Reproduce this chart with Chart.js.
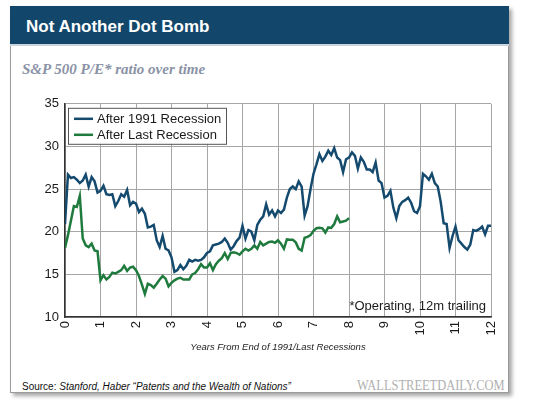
<!DOCTYPE html>
<html><head><meta charset="utf-8">
<script src="https://cdn.jsdelivr.net/npm/chart.js@4.4.0/dist/chart.umd.min.js"></script>
<style>
html,body{margin:0;padding:0;background:#fff;width:540px;height:402px;overflow:hidden;font-family:"Liberation Sans",Arial,sans-serif;}
#card{position:absolute;left:10px;top:6px;width:499px;height:387px;border:1px solid #9a9a9a;box-shadow:3px 3px 4px rgba(0,0,0,0.35);background:#fff;box-sizing:border-box;}
#bar{position:absolute;left:10px;top:6px;width:499px;height:40px;background:#12476b;border-bottom:2px solid #c9d4dd;box-sizing:border-box;}
#title{position:absolute;left:26px;top:17px;line-height:20px;color:#fff;font-weight:bold;font-size:17px;font-family:"Liberation Sans",Arial,sans-serif;white-space:nowrap;}
#sub{position:absolute;left:22px;top:60px;line-height:18px;color:#8a92a6;font-style:italic;font-weight:bold;font-size:15px;font-family:"Liberation Serif","DejaVu Serif",serif;white-space:nowrap;}
#wrap{position:absolute;left:0;top:90px;width:540px;height:280px;}
#src{position:absolute;left:22px;top:381px;line-height:12px;font-size:10px;color:#111;white-space:nowrap;}
#src i{font-style:italic;}
#brand{position:absolute;left:357px;top:377px;line-height:17px;font-size:15px;color:#b0b0b0;font-family:"Liberation Serif","DejaVu Serif",serif;white-space:nowrap;transform:scaleX(0.83);transform-origin:left top;}
</style>
</head><body>
<div id="card"></div>
<div id="bar"></div>
<div id="title">Not Another Dot Bomb</div>
<div id="sub">S&amp;P 500 P/E* ratio over time</div>
<div id="wrap"><canvas id="c" width="540" height="280"></canvas></div>
<div id="src">Source: <i>Stanford, Haber “Patents and the Wealth of Nations”</i></div>
<div id="brand">WALLSTREETDAILY.COM</div>
<script>
// Monthly P/E values, starting at the end of each recession
const seriesNames = ["After 1991 Recession", "After Last Recession"];
const after1991 = [
  20.9,26.7,26.3,26.4,26.1,25.7,26.0,26.7,25.3,26.4,25.9,24.6,
  24.8,25.4,24.4,24.3,24.4,23.0,23.6,24.4,24.1,24.9,23.1,23.5,
  23.3,22.3,22.7,22.1,20.5,20.6,20.8,19.0,18.2,19.5,18.0,17.8,
  17.0,15.3,15.5,16.1,15.6,16.0,16.7,16.5,16.7,16.6,16.7,17.0,
  17.5,17.7,18.4,18.5,18.6,18.8,19.2,18.7,17.9,18.3,18.9,19.3,
  20.7,19.2,20.2,20.0,19.0,20.8,21.4,21.8,23.2,22.0,22.5,21.8,
  22.5,22.2,22.6,24.0,25.0,25.3,25.0,25.9,25.3,21.9,23.0,25.0,
  26.8,27.9,29.1,28.3,28.8,29.5,29.0,29.8,28.7,28.4,27.0,28.5,
  28.7,29.3,28.9,27.4,28.7,28.2,27.3,27.3,27.0,28.1,26.0,25.7,
  24.0,24.2,24.8,22.8,21.6,23.0,23.5,23.7,24.0,23.4,22.4,22.2,
  23.0,26.8,26.5,26.1,26.8,25.7,25.3,23.5,21.0,20.9,18.1,19.5,
  20.6,19.0,18.6,18.2,17.9,18.5,20.2,20.1,20.3,20.6,19.7,20.7,
  20.7
];
const afterLast = [
  18.1,19.6,21.3,23.0,22.9,24.2,19.2,18.4,18.2,18.6,17.8,17.7,
  14.3,14.9,14.4,14.7,15.2,15.1,15.3,15.5,16.0,15.4,15.8,15.9,
  15.5,14.8,13.8,12.7,13.9,13.75,13.45,13.9,14.4,14.8,14.5,13.6,
  14.0,14.3,14.5,14.6,14.4,14.4,14.4,15.0,15.15,15.6,16.2,15.8,
  15.8,16.3,15.5,16.2,16.6,16.9,17.5,16.8,17.5,17.6,17.5,17.3,
  17.7,18.0,17.8,18.0,18.4,18.0,18.8,18.4,18.6,18.8,18.85,18.7,
  19.0,18.6,18.0,19.1,19.05,19.05,18.75,18.0,17.8,19.3,19.4,19.6,
  20.1,20.4,20.45,20.4,19.9,20.5,20.45,20.9,21.8,21.1,21.2,21.3,
  21.6
];
const monthsPerYear = 12;
const xTickLabels = ["0","1","2","3","4","5","6","7","8","9","10","11","12"];
const yTickLabels = ["10","15","20","25","30","35"];
const xTitle = "Years From End of 1991/Last Recessions";
const noteText = "*Operating, 12m trailing";

const toPoints = arr => arr.map((v, i) => ({x: i / monthsPerYear, y: v}));

const boxLegend = {
  id: 'boxLegend',
  afterDraw(chart) {
    const {ctx, chartArea: a} = chart;
    const x = a.left + 3, y = a.top + 4, w = 158, h = 36;
    ctx.save();
    ctx.fillStyle = '#fff';
    ctx.fillRect(x, y, w, h);
    ctx.strokeStyle = '#555';
    ctx.lineWidth = 1;
    ctx.strokeRect(x + 0.5, y + 0.5, w, h);
    ctx.font = '13px "Liberation Sans", Arial, sans-serif';
    ctx.textBaseline = 'middle';
    chart.data.datasets.forEach((ds, i) => {
      const cy = y + 11 + i * 16;
      ctx.strokeStyle = ds.borderColor;
      ctx.lineWidth = 2.5;
      ctx.beginPath(); ctx.moveTo(x + 6, cy); ctx.lineTo(x + 25, cy); ctx.stroke();
      ctx.fillStyle = '#1a1a1a';
      ctx.fillText(ds.label, x + 29, cy + 0.5);
    });
    ctx.textAlign = 'right';
    ctx.textBaseline = 'alphabetic';
    ctx.fillText(noteText, a.right - 5, a.bottom - 7);
    ctx.restore();
  }
};

new Chart(document.getElementById('c'), {
  type: 'line',
  data: {
    datasets: [
      {label: seriesNames[0], data: toPoints(after1991), borderColor: '#154a6f', borderWidth: 2.5, pointRadius: 0, tension: 0, fill: false},
      {label: seriesNames[1], data: toPoints(afterLast), borderColor: '#1f7a3d', borderWidth: 2.5, pointRadius: 0, tension: 0, fill: false}
    ]
  },
  options: {
    responsive: false,
    animation: false,
    devicePixelRatio: 1,
    layout: {padding: {left: 0, right: 49, top: 9, bottom: 17}},
    plugins: {legend: {display: false}, tooltip: {enabled: false}},
    scales: {
      x: {
        type: 'linear', min: 0, max: 12,
        afterFit(s) { s.height = 36; },
        afterBuildTicks(s) { s.ticks = xTickLabels.map(Number).map(v => ({value: v})); },
        ticks: {
          autoSkip: false, minRotation: 90, maxRotation: 90, padding: 4,
          color: '#1a1a1a', font: {size: 13, family: '"Liberation Sans", Arial, sans-serif'},
          callback: (v, i) => xTickLabels[i]
        },
        grid: {color: '#a6a6a6', lineWidth: 1, drawTicks: false},
        border: {color: '#333', width: 1.5},
        title: {display: true, text: xTitle, color: '#222', padding: 0,
          font: {size: 9.5, style: 'italic', family: '"Liberation Sans", Arial, sans-serif'}}
      },
      y: {
        min: 10, max: 35,
        afterFit(s) { s.width = 65; },
        afterBuildTicks(s) { s.ticks = yTickLabels.map(Number).map(v => ({value: v})); },
        ticks: {
          padding: 6, color: '#1a1a1a',
          font: {size: 13, family: '"Liberation Sans", Arial, sans-serif'},
          callback: (v, i) => yTickLabels[i]
        },
        grid: {color: '#a6a6a6', lineWidth: 1, drawTicks: false},
        border: {color: '#333', width: 1.5}
      }
    }
  },
  plugins: [boxLegend]
});
</script>
</body></html>
